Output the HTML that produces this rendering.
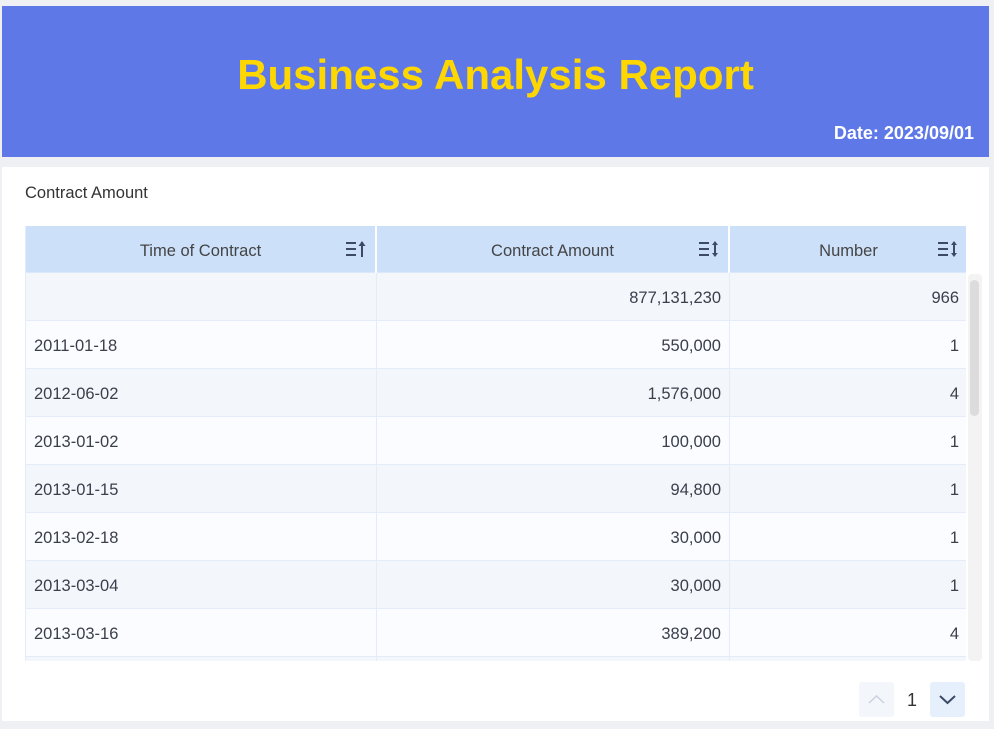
<!DOCTYPE html><html><head><style>
body{margin:0;width:994px;height:729px;background:#eef0f4;font-family:"Liberation Sans",sans-serif;position:relative;overflow:hidden}
.hd{position:absolute;left:2px;top:6px;width:987px;height:151px;background:#5e78e8}
.t{position:absolute;left:0;right:0;top:45px;text-align:center;color:#ffd700;font-weight:bold;font-size:42px}
.d{position:absolute;right:15px;top:117px;color:#fff;font-weight:bold;font-size:18px}
.p{position:absolute;left:2px;top:167px;width:987px;height:554px;background:#fff}
.ct{position:absolute;left:25px;top:184px;font-size:16.5px;color:#333}
.tb{position:absolute;left:25px;top:226px;width:941px;height:435px;overflow:hidden;border-left:1px solid #e3ecf8;box-sizing:border-box}
.r{position:absolute;left:0;width:941px;height:47px;border-bottom:1px solid #e3ecf8;font-size:16.5px;color:#3a3f4b}
.c{position:absolute;top:0;height:47px;line-height:51px;box-sizing:border-box;border-right:1px solid #e3ecf8}
.h{background:#cce0fa;height:46px;border-bottom:1px solid #dbe8fa}
.h .c{line-height:50px;text-align:center;color:#444;border-right:2px solid #fff}
.ic{position:absolute;right:8px;top:14px}
.sb{position:absolute;left:968px;top:274px;width:14px;height:387px;background:#f3f3f3;border-radius:4px}
.th{position:absolute;left:2px;top:6px;width:9px;height:136px;background:#dcdcdc;border-radius:5px}
.bt{position:absolute;top:682px;width:35px;height:35px;border-radius:3px}
</style></head><body>
<div class="hd"><div class="t">Business Analysis Report</div><div class="d">Date: 2023/09/01</div></div>
<div class="p"></div>
<div class="ct">Contract Amount</div>
<div class="tb">
<div class="r h" style="top:0">
<div class="c" style="left:0;width:351px">Time of Contract<svg class="ic" width="22" height="18"><g stroke="#3d4a66" stroke-width="2"><line x1="1" y1="3" x2="11" y2="3"/><line x1="1" y1="9" x2="11" y2="9"/><line x1="1" y1="15" x2="11" y2="15"/><line x1="17" y1="2" x2="17" y2="17"/></g><path d="M13.5 6 17 1 20.5 6z" fill="#3d4a66"/></svg></div>
<div class="c" style="left:351px;width:353px">Contract Amount<svg class="ic" width="22" height="18"><g stroke="#3d4a66" stroke-width="2"><line x1="1" y1="3" x2="11" y2="3"/><line x1="1" y1="9" x2="11" y2="9"/><line x1="1" y1="15" x2="11" y2="15"/><line x1="17" y1="3" x2="17" y2="15"/></g><path d="M14 5 17 1 20 5zM14 13 17 17 20 13z" fill="#3d4a66"/></svg></div>
<div class="c" style="left:704px;width:237px;border-right:none">Number<svg class="ic" width="22" height="18"><g stroke="#3d4a66" stroke-width="2"><line x1="1" y1="3" x2="11" y2="3"/><line x1="1" y1="9" x2="11" y2="9"/><line x1="1" y1="15" x2="11" y2="15"/><line x1="17" y1="3" x2="17" y2="15"/></g><path d="M14 5 17 1 20 5zM14 13 17 17 20 13z" fill="#3d4a66"/></svg></div>
</div>
</div>
<div class="sb"><div class="th"></div></div>
<div class="bt" style="left:859px;background:#f3f6fb"><svg width="35" height="35"><path d="M10 21 17.5 14 25 21" fill="none" stroke="#ccd2dc" stroke-width="1.5"/></svg></div>
<div style="position:absolute;left:907px;top:690px;font-size:18px;color:#333">1</div>
<div class="bt" style="left:930px;background:#e6effc"><svg width="35" height="35"><path d="M10 14 17.5 21 25 14" fill="none" stroke="#3d4a66" stroke-width="2"/></svg></div>
<script>
var d=[["","877,131,230","966"],["2011-01-18","550,000","1"],["2012-06-02","1,576,000","4"],["2013-01-02","100,000","1"],["2013-01-15","94,800","1"],["2013-02-18","30,000","1"],["2013-03-04","30,000","1"],["2013-03-16","389,200","4"],["","",""]];
var tb=document.querySelector('.tb'),h='';
d.forEach(function(r,i){h+='<div class="r" style="top:'+(47+i*48)+'px;background:'+(i%2?'#fafcff':'#f3f7fc')+'"><div class="c" style="left:0;width:351px;padding-left:8px">'+r[0]+'</div><div class="c" style="left:351px;width:353px;text-align:right;padding-right:8px">'+r[1]+'</div><div class="c" style="left:704px;width:237px;text-align:right;padding-right:8px;border-right:none">'+r[2]+'</div></div>'});
tb.insertAdjacentHTML('beforeend',h);
</script>
</body></html>
